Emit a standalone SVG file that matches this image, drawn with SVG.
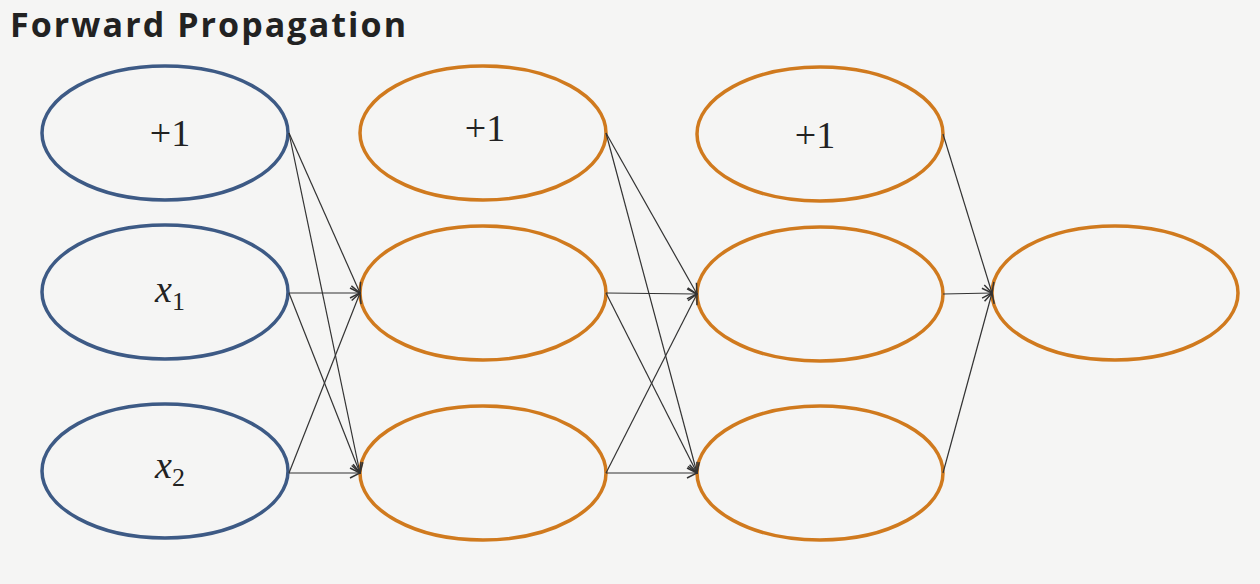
<svg xmlns="http://www.w3.org/2000/svg" width="1260" height="584" viewBox="0 0 1260 584">
<style>
.b{fill:none;stroke:#3d5a85;stroke-width:3.5}
.o{fill:none;stroke:#d07a1e;stroke-width:3.5}
.t{font-family:"Liberation Serif",serif;font-size:38px;fill:#222;text-anchor:middle}
.i{font-style:italic}
.c line{stroke:#333;stroke-width:1.2;marker-end:url(#a)}
</style>
<defs><marker id="a" viewBox="0 0 12 12" refX="11" refY="6" markerWidth="12" markerHeight="12" markerUnits="userSpaceOnUse" orient="auto"><path d="M1,1 L11,6 L1,11" fill="none" stroke="#333" stroke-width="1.5"/></marker></defs>
<rect width="1260" height="584" fill="#f5f5f4"/>
<text x="10" y="37" font-family="Open Sans,sans-serif" font-weight="bold" font-size="34" textLength="396" fill="#222">Forward Propagation</text>
<g id="i0"><ellipse class="b" cx="165" cy="133" rx="123" ry="67"/><text class="t" x="170" y="146">+1</text></g>
<g id="i1"><ellipse class="b" cx="165" cy="292" rx="123" ry="67"/><text class="t" x="170" y="302"><tspan class="i">x</tspan><tspan font-size="26" dy="8">1</tspan></text></g>
<g id="i2"><ellipse class="b" cx="165" cy="471" rx="123" ry="67"/><text class="t" x="170" y="478"><tspan class="i">x</tspan><tspan font-size="26" dy="8">2</tspan></text></g>
<g id="h0"><ellipse class="o" cx="483" cy="133" rx="123" ry="67"/><text class="t" x="485" y="141">+1</text></g>
<g id="h1"><ellipse class="o" cx="483" cy="293" rx="123" ry="67"/></g>
<g id="h2"><ellipse class="o" cx="483" cy="473" rx="123" ry="67"/></g>
<g id="g0"><ellipse class="o" cx="820" cy="134" rx="123" ry="67"/><text class="t" x="815" y="148">+1</text></g>
<g id="g1"><ellipse class="o" cx="820" cy="294" rx="123" ry="67"/></g>
<g id="g2"><ellipse class="o" cx="820" cy="473" rx="123" ry="67"/></g>
<g id="out"><ellipse class="o" cx="1115" cy="293" rx="123" ry="67"/></g>
<g class="c">
<line x1="289" y1="133" x2="360" y2="293"/><line x1="289" y1="133" x2="360" y2="473"/>
<line x1="289" y1="293" x2="360" y2="293"/><line x1="289" y1="293" x2="360" y2="473"/>
<line x1="289" y1="473" x2="360" y2="293"/><line x1="289" y1="473" x2="360" y2="473"/>
<line x1="606" y1="133" x2="697" y2="294"/><line x1="606" y1="133" x2="697" y2="473"/>
<line x1="606" y1="293" x2="697" y2="294"/><line x1="606" y1="293" x2="697" y2="473"/>
<line x1="606" y1="473" x2="697" y2="294"/><line x1="606" y1="473" x2="697" y2="473"/>
<line x1="943" y1="134" x2="992" y2="293"/><line x1="943" y1="294" x2="992" y2="293"/><line x1="943" y1="473" x2="992" y2="293"/>
</g>
</svg>
